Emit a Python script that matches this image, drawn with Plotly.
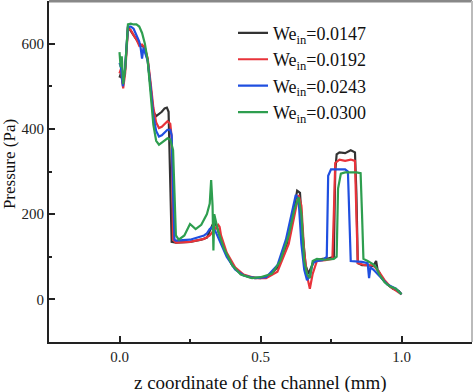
import plotly.graph_objects as go

# ---- data ----
x_0147 = [0.0, 0.005, 0.012, 0.02, 0.03, 0.04, 0.05, 0.06, 0.07, 0.08, 0.09, 0.1, 0.11, 0.12, 0.13, 0.14, 0.15, 0.16, 0.168, 0.174, 0.18, 0.185, 0.2, 0.25, 0.29, 0.31, 0.32, 0.33, 0.34, 0.35, 0.37, 0.4, 0.43, 0.46, 0.5, 0.53, 0.56, 0.59, 0.61, 0.63, 0.64, 0.65, 0.66, 0.67, 0.68, 0.69, 0.7, 0.72, 0.74, 0.76, 0.765, 0.77, 0.78, 0.8, 0.82, 0.835, 0.84, 0.845, 0.86, 0.88, 0.9, 0.91, 0.915, 0.92, 0.93, 0.95, 0.97, 0.99, 1.0]
y_0147 = [520, 530, 505, 540, 640, 630, 620, 610, 600, 595, 590, 560, 500, 440, 430, 435, 440, 448, 450, 440, 250, 135, 133, 135, 140, 145, 160, 175, 180, 160, 120, 80, 60, 52, 50, 55, 75, 120, 180, 255, 250, 150, 80, 60, 75, 90, 92, 95, 96, 100, 300, 340, 345, 343, 350, 345, 250, 85, 80, 80, 78, 90, 70, 65, 50, 35, 25, 20, 12]

x_0192 = [0.0, 0.005, 0.013, 0.02, 0.03, 0.04, 0.05, 0.06, 0.07, 0.08, 0.09, 0.1, 0.11, 0.12, 0.13, 0.14, 0.15, 0.16, 0.17, 0.18, 0.185, 0.19, 0.2, 0.25, 0.3, 0.32, 0.34, 0.35, 0.355, 0.36, 0.38, 0.41, 0.44, 0.48, 0.52, 0.56, 0.6, 0.62, 0.635, 0.645, 0.655, 0.665, 0.675, 0.685, 0.7, 0.73, 0.755, 0.76, 0.765, 0.78, 0.8, 0.82, 0.835, 0.84, 0.845, 0.87, 0.9, 0.92, 0.94, 0.96, 0.98, 1.0]
y_0192 = [530, 540, 495, 530, 635, 632, 620, 610, 595, 598, 590, 565, 510, 450, 415, 402, 405, 412, 418, 412, 380, 140, 133, 135, 142, 150, 165, 175, 170, 150, 110, 75, 58, 50, 50, 65, 130, 200, 245, 220, 110, 55, 25, 60, 90, 92, 95, 200, 320, 328, 325, 328, 325, 200, 85, 80, 80, 65, 45, 30, 22, 12]

x_0243 = [0.0, 0.005, 0.012, 0.02, 0.03, 0.04, 0.05, 0.06, 0.07, 0.075, 0.08, 0.085, 0.09, 0.1, 0.11, 0.12, 0.13, 0.14, 0.15, 0.16, 0.17, 0.18, 0.185, 0.19, 0.195, 0.2, 0.25, 0.3, 0.31, 0.32, 0.33, 0.34, 0.36, 0.38, 0.41, 0.44, 0.48, 0.52, 0.56, 0.59, 0.61, 0.625, 0.635, 0.645, 0.655, 0.665, 0.675, 0.685, 0.7, 0.72, 0.735, 0.74, 0.75, 0.8, 0.81, 0.815, 0.82, 0.86, 0.88, 0.885, 0.89, 0.9, 0.92, 0.95, 0.98, 1.0]
y_0243 = [555, 545, 500, 545, 640, 640, 635, 620, 605, 590, 565, 590, 580, 560, 500, 430, 395, 382, 385, 392, 398, 398, 385, 250, 140, 138, 140, 150, 155, 165, 170, 160, 130, 100, 70, 56, 50, 52, 80, 140, 200, 245, 235, 130, 70, 45, 55, 85, 90, 92, 100, 290, 305, 305, 300, 200, 90, 88, 85, 50, 75, 70, 55, 35, 25, 12]

x_0300 = [0.0, 0.004, 0.008, 0.013, 0.02, 0.03, 0.04, 0.05, 0.06, 0.07, 0.08, 0.09, 0.1, 0.11, 0.12, 0.13, 0.14, 0.15, 0.16, 0.17, 0.18, 0.19, 0.195, 0.2, 0.21, 0.23, 0.25, 0.26, 0.27, 0.29, 0.31, 0.32, 0.325, 0.33, 0.333, 0.336, 0.34, 0.35, 0.37, 0.4, 0.43, 0.47, 0.5, 0.54, 0.57, 0.6, 0.62, 0.635, 0.645, 0.655, 0.665, 0.675, 0.685, 0.7, 0.73, 0.76, 0.77, 0.775, 0.785, 0.8, 0.84, 0.855, 0.86, 0.865, 0.88, 0.9, 0.91, 0.92, 0.94, 0.96, 0.98, 1.0]
y_0300 = [580, 545, 570, 505, 540, 645, 647, 645, 645, 640, 625, 600, 560, 480, 410, 372, 363, 368, 373, 378, 375, 350, 250, 150, 140, 150, 177, 172, 165, 175, 200, 225, 280, 220, 115, 200, 190, 160, 120, 80, 58, 50, 52, 60, 90, 150, 210, 240, 200, 90, 60, 50, 90, 95, 93, 95, 100, 260, 295, 298, 298, 296, 200, 95, 90, 82, 75, 60, 40, 30, 25, 12]

series_names = ["We<sub>in</sub>=0.0147", "We<sub>in</sub>=0.0192",
                "We<sub>in</sub>=0.0243", "We<sub>in</sub>=0.0300"]
series_x = [x_0147, x_0192, x_0243, x_0300]
series_y = [y_0147, y_0192, y_0243, y_0300]
colors = ["#333333", "#e8333a", "#1f4fe0", "#2e9e4f"]

x_tickvals = [0.0, 0.5, 1.0]
x_ticktext = ["0.0", "0.5", "1.0"]
y_tickvals = [0, 200, 400, 600]
x_title = "z coordinate of the channel (mm)"
y_title = "Pressure (Pa)"

FONT = "Liberation Serif"

fig = go.Figure()
for name, xs, ys, c in zip(series_names, series_x, series_y, colors):
    fig.add_trace(go.Scatter(x=xs, y=ys, mode="lines", name=name,
                             line=dict(color=c, width=2.2)))

fig.update_layout(
    width=474, height=392,
    margin=dict(l=49, r=2, t=1, b=50, autoexpand=False),
    paper_bgcolor="white", plot_bgcolor="white",
    font=dict(family=FONT, color="#222222"),
    showlegend=True,
    legend=dict(x=0.435, y=0.96, xanchor="left", yanchor="top",
                font=dict(family=FONT, size=18, color="#111111"),
                bgcolor="rgba(0,0,0,0)", tracegroupgap=0, itemwidth=30),
)
fig.update_xaxes(range=[-0.25, 1.25], tickvals=x_tickvals, ticktext=x_ticktext,
                 ticks="inside", ticklen=6, tickwidth=1.5, tickcolor="#222222",
                 minor=dict(tickvals=[0.25, 0.75], ticks="inside", ticklen=3,
                            tickwidth=1.5, tickcolor="#222222"),
                 showline=True, linecolor="#222222", linewidth=2,
                 showgrid=False, zeroline=False, automargin=False,
                 tickfont=dict(family=FONT, size=15, color="#222222"))
fig.update_yaxes(range=[-100, 700], tickvals=y_tickvals,
                 ticks="inside", ticklen=6, tickwidth=1.5, tickcolor="#222222",
                 minor=dict(tickvals=[100, 300, 500], ticks="inside", ticklen=3,
                            tickwidth=1.5, tickcolor="#222222"),
                 showline=True, linecolor="#222222", linewidth=2,
                 showgrid=False, zeroline=False, automargin=False,
                 tickfont=dict(family=FONT, size=15, color="#222222"))
fig.add_annotation(text=x_title, xref="paper", yref="paper",
                   x=0.5, y=-0.12, xanchor="center", yanchor="middle",
                   showarrow=False, font=dict(family=FONT, size=19, color="#111111"))
fig.add_annotation(text=y_title, xref="paper", yref="paper",
                   x=-0.092, y=0.522, xanchor="center", yanchor="middle", textangle=-90,
                   showarrow=False, font=dict(family=FONT, size=17, color="#111111"))
# gray frame top & right
fig.add_shape(type="line", xref="paper", yref="paper", x0=0, x1=1, y0=1, y1=1,
              line=dict(color="#888888", width=3))
fig.add_shape(type="line", xref="paper", yref="paper", x0=1, x1=1, y0=0, y1=1,
              line=dict(color="#bbbbbb", width=2))

fig.write_html("out.html", config={"displayModeBar": False},
               post_script="document.body.style.margin='0px';")
